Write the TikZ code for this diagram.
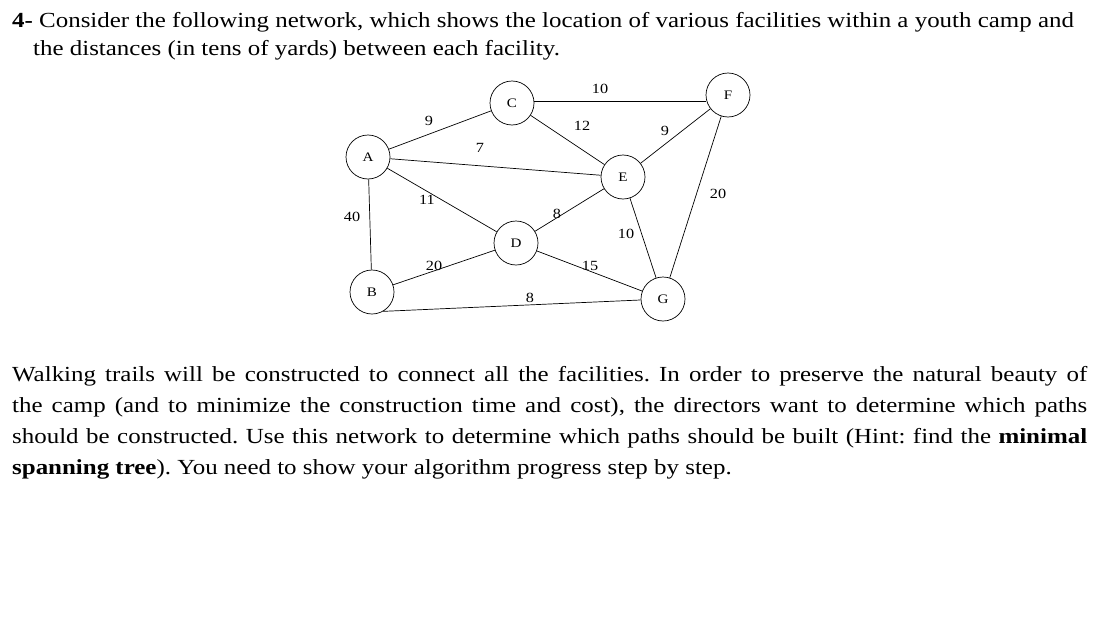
\documentclass[tikz,border=0pt]{standalone}
\usepackage{fontspec}
\setmainfont{Liberation Serif}[FakeStretch=1.16]
\frenchspacing
\begin{document}
\begin{tikzpicture}[x=1pt,y=-1pt,
  vtx/.style={circle,draw,line width=0.7pt,minimum size=44pt,inner sep=0pt,font=\fontsize{13}{14}\selectfont},
  edge/.style={line width=0.7pt},
  wt/.style={font=\fontsize{14}{15}\selectfont,inner sep=1pt}]
\useasboundingbox (0,0) rectangle (1110,626);
\node[anchor=north west,align=left,inner sep=0pt,font=\fontsize{21.5}{28}\selectfont] (t1) at (12,12)
 {\textbf{4-} Consider the following network, which shows the location of various facilities within a youth camp and\\
 \hspace*{21pt}the distances (in tens of yards) between each facility.};
\node (A) [vtx] at (368,157) {A};
\node (B) [vtx] at (372,292) {B};
\node (C) [vtx] at (512,103) {C};
\node (D) [vtx] at (516,243) {D};
\node (E) [vtx] at (623,177) {E};
\node (F) [vtx] at (728,95) {F};
\node (G) [vtx] at (663,299) {G};
\coordinate (fl) at (706,101);
\draw[edge] (A) -- (C);
\draw[edge] (A) -- (E);
\draw[edge] (A) -- (D);
\draw[edge] (A) -- (B);
\draw[edge] (B) -- (D);
\draw[edge] (B.-60) -- (G);
\draw[edge] (C.east |- fl) -- (fl);
\draw[edge] (C) -- (E);
\draw[edge] (D) -- (E);
\draw[edge] (D) -- (G);
\draw[edge] (E) -- (F);
\draw[edge] (E) -- (G);
\draw[edge] (F) -- (G);
\node[wt] (w1) at (429,121) {9};
\node[wt] (w2) at (480,148) {7};
\node[wt] (w3) at (427,200) {11};
\node[wt] (w4) at (352,217) {40};
\node[wt] (w5) at (434,266) {20};
\node[wt] (w6) at (530,298) {8};
\node[wt] (w7) at (600,89) {10};
\node[wt] (w8) at (582,126) {12};
\node[wt] (w9) at (665,131) {9};
\node[wt] (w10) at (718,194) {20};
\node[wt] (w11) at (557,214) {8};
\node[wt] (w12) at (626,234) {10};
\node[wt] (w13) at (590,266) {15};
\node[anchor=north west,align=justify,text width=1075pt,inner sep=0pt,font=\fontsize{21.5}{31}\selectfont] (t2) at (12,366)
 {Walking trails will be constructed to connect all the facilities. In order to preserve the natural beauty of the camp (and to minimize the construction time and cost), the directors want to determine which paths should be constructed. Use this network to determine which paths should be built (Hint: find the \textbf{minimal}\linebreak \textbf{spanning tree}). You need to show your algorithm progress step by step.};
\end{tikzpicture}
\end{document}
